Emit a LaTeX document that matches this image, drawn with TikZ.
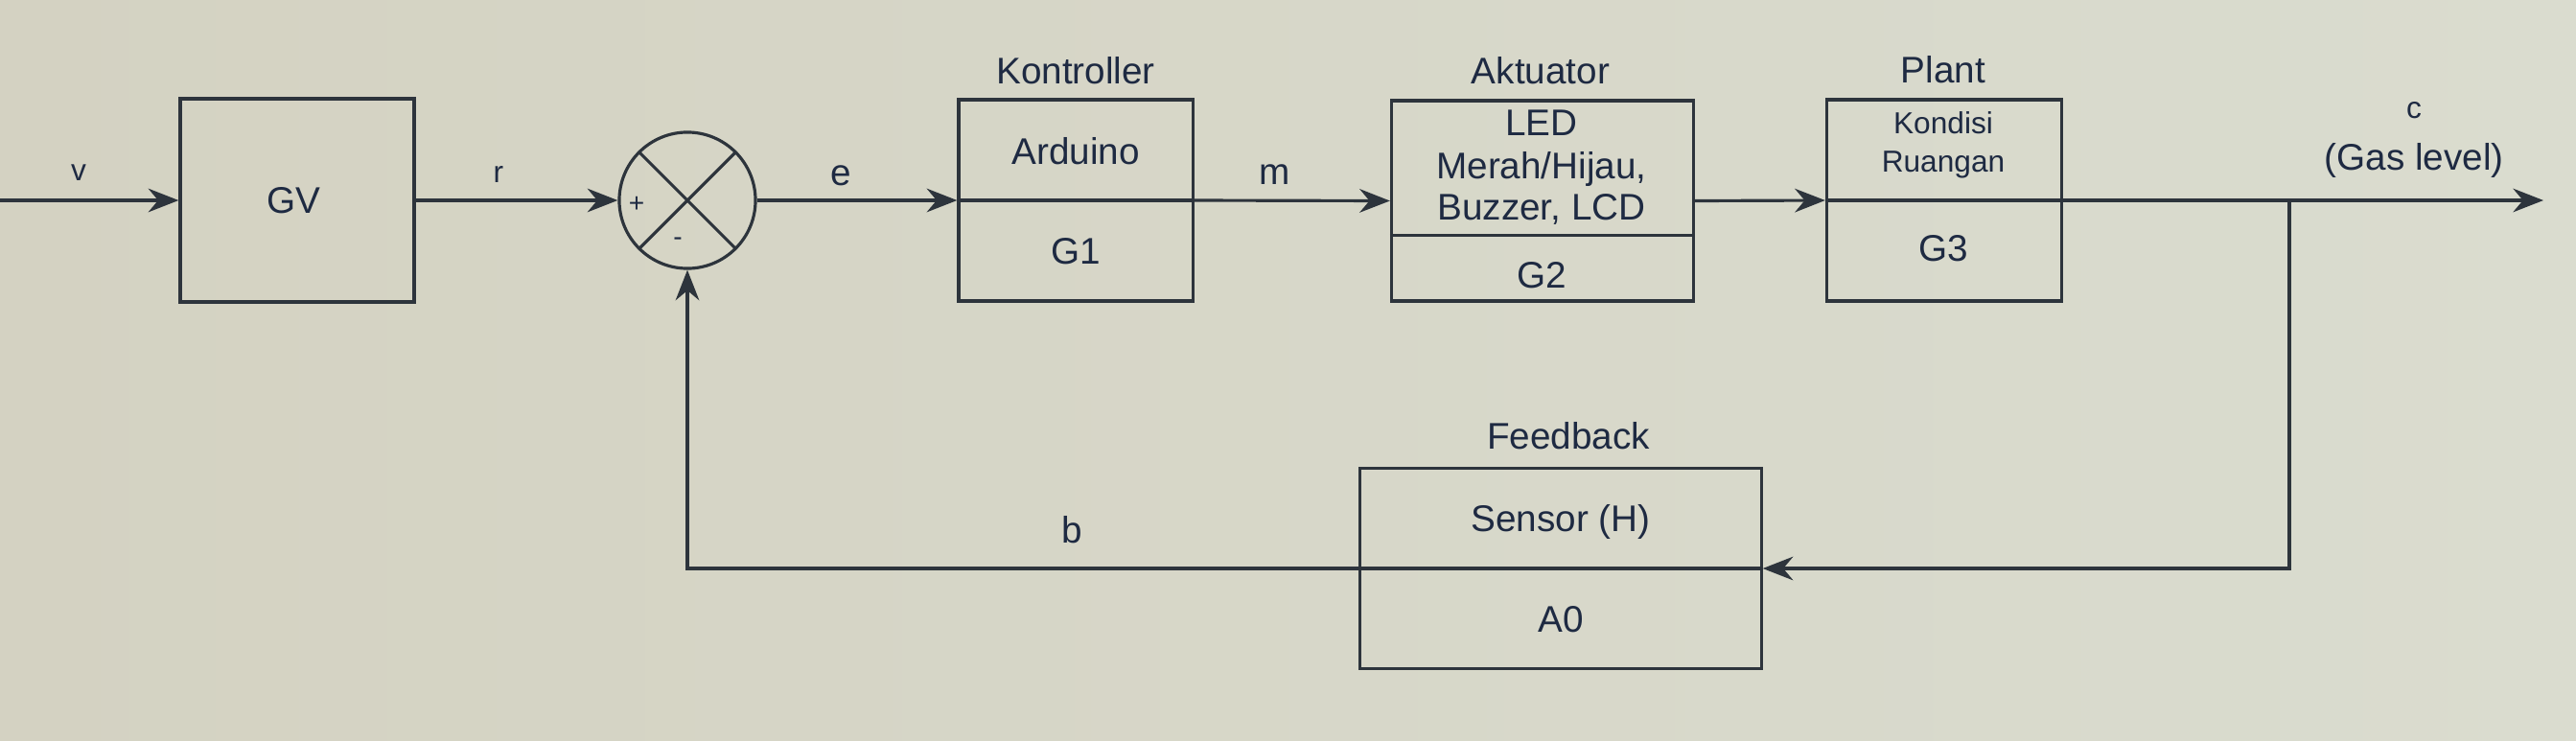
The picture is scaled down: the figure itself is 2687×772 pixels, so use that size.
\documentclass[tikz,border=0pt]{standalone}
\usepackage{fontspec}
\setmainfont{Liberation Sans}
\usetikzlibrary{arrows.meta,calc}
\definecolor{bgL}{RGB}{212,210,194}
\definecolor{bgR}{RGB}{218,220,207}
\definecolor{ink}{RGB}{30,42,66}
\definecolor{wire}{RGB}{45,52,60}
\begin{document}
\begin{tikzpicture}[x=0.01cm,y=-0.01cm,
  blk/.style={draw=wire,line width=0.9pt,inner sep=0pt},
  lbl/.style={text=ink,font=\fontsize{11}{13}\selectfont,inner sep=0pt},
  sml/.style={text=ink,font=\fontsize{9}{10}\selectfont,inner sep=0pt},
  tiny/.style={text=ink,font=\fontsize{8}{9}\selectfont,inner sep=0pt},
  wireline/.style={draw=wire,line width=0.9pt},
  arr/.style={wireline,-{Stealth[length=9pt,width=7pt]}}]
\shade[left color=bgL,right color=bgR] (0,0) rectangle (2687,772);
\useasboundingbox (0,0) rectangle (2687,772);

% blocks
\node[blk,minimum width=2.44cm,minimum height=2.12cm] (gv) at (310,209) {};
\node[blk,circle,minimum size=1.42cm] (sum) at (717,209) {};
\node[blk,minimum width=2.44cm,minimum height=2.10cm] (k) at (1122,209) {};
\node[blk,minimum width=3.15cm,minimum height=2.09cm] (ak) at (1609,209.5) {};
\node[blk,minimum width=2.45cm,minimum height=2.10cm] (pl) at (2028,209) {};
\node[blk,minimum width=4.18cm,minimum height=2.09cm] (fb) at (1628,593) {};

% dividers and summing cross
\draw[wireline] (sum.north west) -- (sum.south east) (sum.north east) -- (sum.south west);
\draw[wireline] (k.west) -- (k.east);
\draw[wireline] ($(ak.south west)+(0,-70)$) -- ($(ak.south east)+(0,-70)$);
\draw[wireline] (pl.west) -- (pl.east);
\draw[wireline] (fb.west) -- (fb.east);

% connectors
\coordinate (vin) at (0,209);
\coordinate (br) at (2388,209);
\coordinate (out) at (2653,209);
\coordinate (fbr) at (2388,593);
\coordinate (fbl) at (sum.south |- fb.west);
\draw[arr] (vin) -- (gv.west);
\draw[arr] (gv.east) -- (sum.west);
\draw[arr] (sum.east) -- (k.west);
\draw[arr] (k.east) -- (ak.west);
\draw[arr] (ak.east) -- (pl.west);
\draw[arr] (pl.east) -- (out);
\draw[arr] (br) -- (fbr) -- (fb.east);
\draw[arr] (fb.west) -- (fbl) -- (sum.south);

% texts
\node[lbl] (tgv) at (306,209) {GV};
\node[tiny] (tplus) at (664,213) {+};
\node[tiny] (tminus) at (707,252) {-};
\node[sml] (tv) at (82,180) {v};
\node[sml] (tr) at (520,182) {r};
\node[lbl] (te) at (877,183) {e};
\node[lbl] (tm) at (1330,182) {m};

\node[lbl] (tk) at (1122,74) {Kontroller};
\node[lbl] (tard) at (1122,158) {Arduino};
\node[lbl] (tg1) at (1122,262) {G1};

\node[lbl] (tak) at (1607,74) {Aktuator};
\node[lbl] (tled) at (1608,128) {LED};
\node[lbl] (tmh) at (1608,176) {Merah/Hijau,};
\node[lbl] (tbz) at (1608,218) {Buzzer, LCD};
\node[lbl] (tg2) at (1608,287) {G2};

\node[lbl] (tpl) at (2027,73) {Plant};
\node[sml] (tkd) at (2027,128) {Kondisi};
\node[sml] (tru) at (2027,172) {Ruangan};
\node[lbl] (tg3) at (2027,259) {G3};

\node[sml] (tc) at (2518,115) {c};
\node[lbl] (tgas) at (2518,167) {(Gas level)};

\node[lbl] (tfbk) at (1636,455) {Feedback};
\node[lbl] (tsen) at (1628,544) {Sensor (H)};
\node[lbl] (ta0) at (1628,646) {A0};
\node[lbl] (tb) at (1118,553) {b};
\end{tikzpicture}
\end{document}
